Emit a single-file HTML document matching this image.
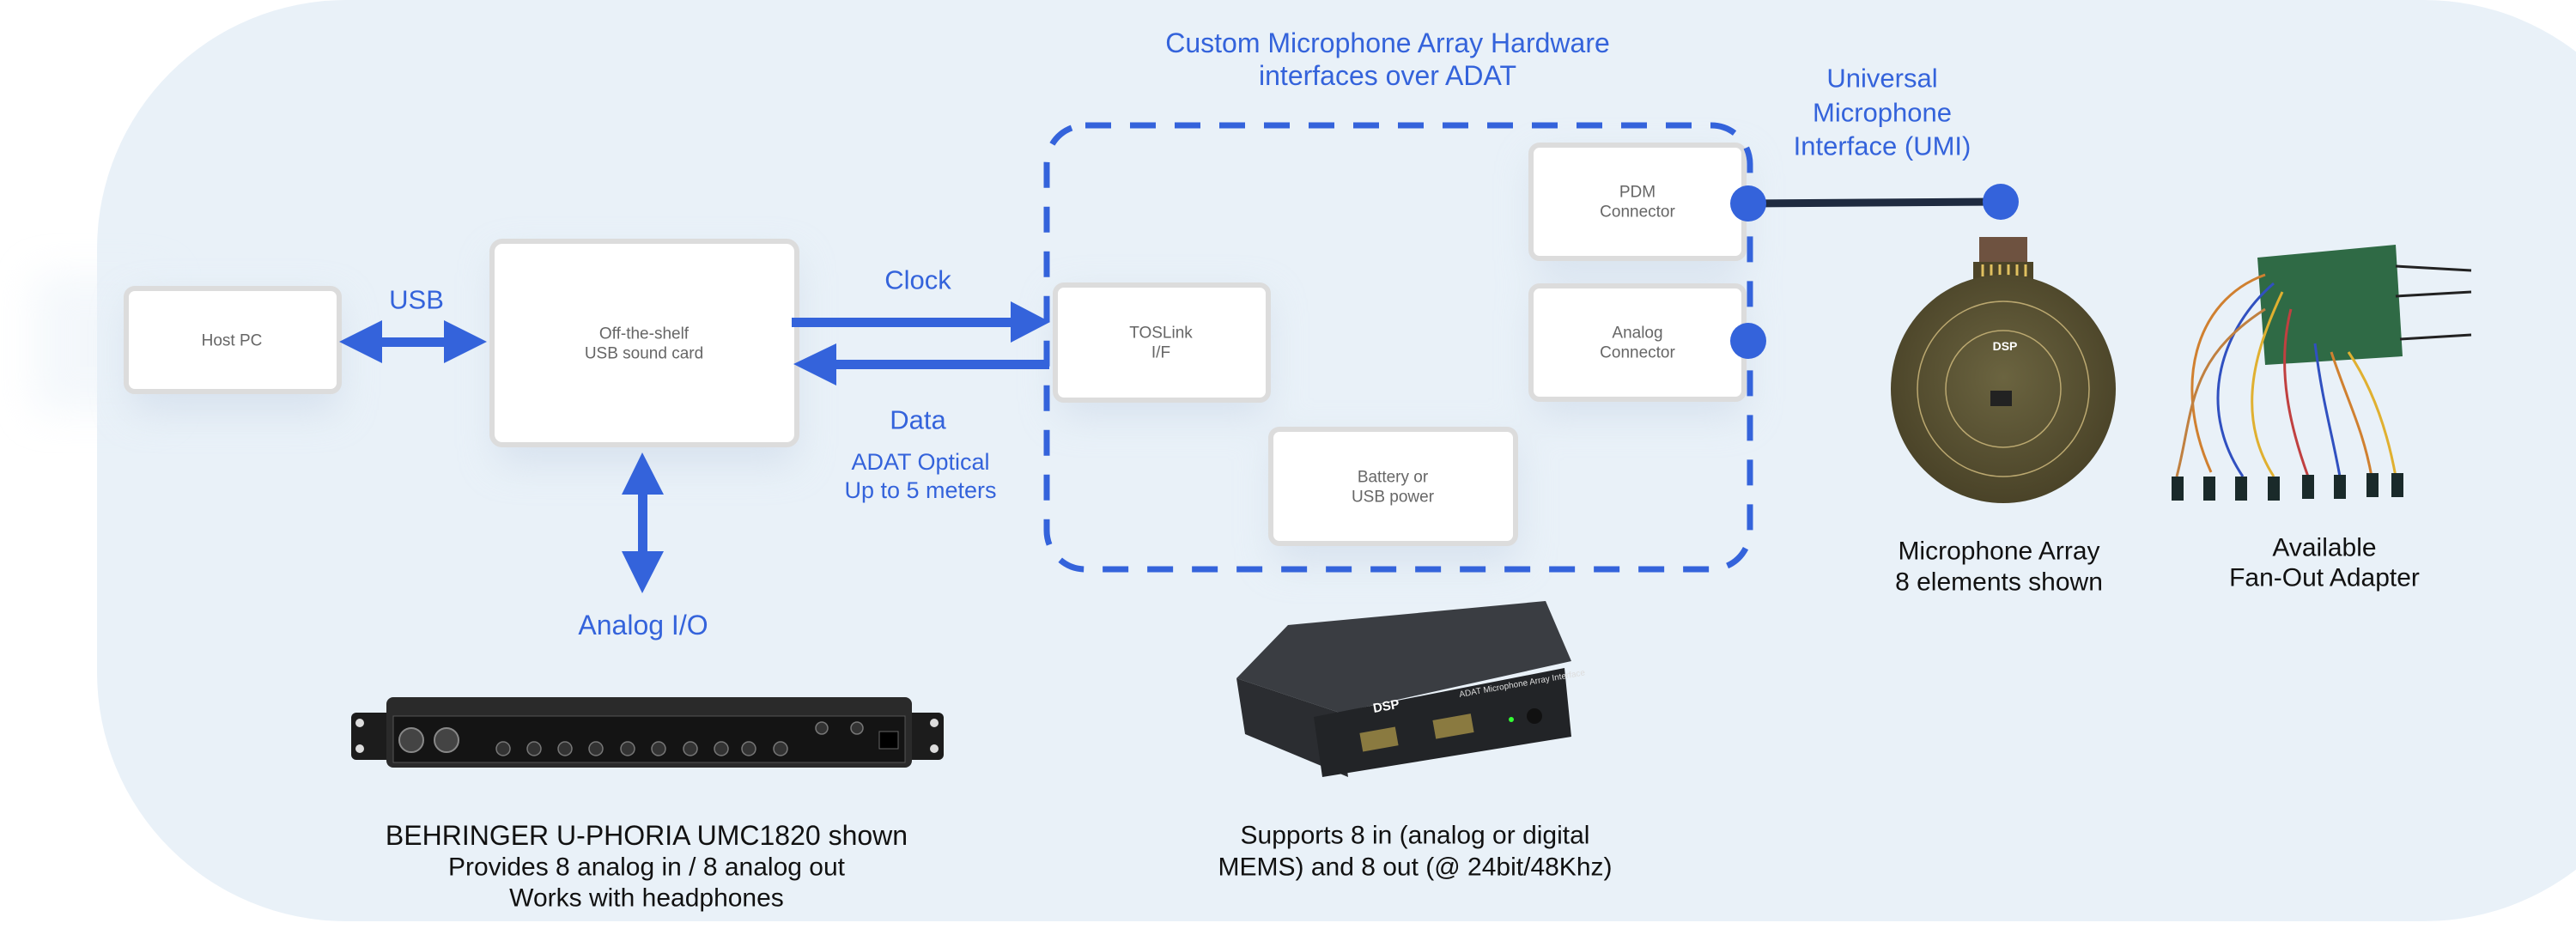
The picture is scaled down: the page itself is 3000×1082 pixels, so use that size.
<!DOCTYPE html>
<html><head><meta charset="utf-8"><style>
html,body{margin:0;padding:0;background:#fff;}
svg{display:block;}
text{font-family:"Liberation Sans",Arial,sans-serif;}
</style></head><body>
<svg width="3000" height="1082" viewBox="0 0 3000 1082" xmlns="http://www.w3.org/2000/svg">
<defs>
<filter id="sh" x="-30%" y="-30%" width="160%" height="160%"><feGaussianBlur stdDeviation="22"/></filter>
<radialGradient id="pcb" cx="50%" cy="45%" r="55%"><stop offset="0" stop-color="#6b6440"/><stop offset="1" stop-color="#4a4328"/></radialGradient>
</defs>
<rect x="113" y="0" width="3000" height="1073" rx="290" ry="290" fill="#e9f1f8"/>
<rect x="40" y="320" width="150" height="160" fill="#e9f1f8" opacity="0.5" filter="url(#sh)"/>

<g fill="#c9d6e6" opacity="0.55" filter="url(#sh)">
<rect x="150" y="350" width="245" height="130" rx="10"/>
<rect x="578" y="300" width="350" height="240" rx="10"/>
<rect x="1232" y="345" width="245" height="140" rx="10"/>
<rect x="1786" y="185" width="245" height="135" rx="10"/>
<rect x="1786" y="345" width="245" height="140" rx="10"/>
<rect x="1483" y="515" width="285" height="140" rx="10"/>
</g>

<g fill="#fff" stroke="#dcdcdc" stroke-width="6">
<rect x="147" y="336" width="248" height="120" rx="10"/>
<rect x="573" y="281" width="355" height="237" rx="12"/>
<rect x="1229" y="332" width="248" height="134" rx="10"/>
<rect x="1783" y="169" width="248" height="132" rx="10"/>
<rect x="1783" y="333" width="248" height="132" rx="10"/>
<rect x="1480" y="500" width="285" height="133" rx="10"/>
</g>
<g fill="#666" font-size="19" text-anchor="middle" dominant-baseline="central">
<text x="270" y="397">Host PC</text>
<text x="750" y="389">Off-the-shelf</text><text x="750" y="412">USB sound card</text>
<text x="1352" y="388">TOSLink</text><text x="1352" y="411">I/F</text>
<text x="1907" y="224">PDM</text><text x="1907" y="247">Connector</text>
<text x="1907" y="388">Analog</text><text x="1907" y="411">Connector</text>
<text x="1622" y="556">Battery or</text><text x="1622" y="579">USB power</text>
</g>

<rect x="1219" y="146" width="819" height="517" rx="45" fill="none" stroke="#3463db" stroke-width="7" stroke-dasharray="30 22"/>

<g fill="#3463db">
<rect x="438" y="393" width="86" height="11"/>
<polygon points="395,398 445,373 445,423"/>
<polygon points="567,398 517,373 517,423"/>
<rect x="922" y="370" width="260" height="11"/>
<polygon points="1223,375 1177,351 1177,399"/>
<rect x="968" y="419" width="254" height="11"/>
<polygon points="924,424 974,400 974,449"/>
<rect x="743" y="565" width="11" height="90"/>
<polygon points="748,527 724,576 773,576"/>
<polygon points="748,691 724,642 773,642"/>
<line x1="2036" y1="237" x2="2330" y2="235" stroke="#1f2b40" stroke-width="9"/>
<circle cx="2036" cy="237" r="21"/>
<circle cx="2036" cy="397" r="21"/>
<circle cx="2330" cy="235" r="21"/>
</g>

<g fill="#3463db" text-anchor="middle" dominant-baseline="central">
<text x="485" y="349" font-size="31">USB</text>
<text x="1069" y="326" font-size="31">Clock</text>
<text x="1069" y="489" font-size="31">Data</text>
<text x="1072" y="538" font-size="27">ADAT Optical</text>
<text x="1072" y="571" font-size="27">Up to 5 meters</text>
<text x="749" y="728" font-size="32">Analog I/O</text>
<text x="1616" y="50" font-size="32">Custom Microphone Array Hardware</text>
<text x="1616" y="88" font-size="32">interfaces over ADAT</text>
<text x="2192" y="91" font-size="31">Universal</text>
<text x="2192" y="131" font-size="31">Microphone</text>
<text x="2192" y="170" font-size="31">Interface (UMI)</text>
</g>

<g fill="#111" text-anchor="middle" dominant-baseline="central" font-size="30">
<text x="753" y="973" font-size="32">BEHRINGER U-PHORIA UMC1820 shown</text>
<text x="753" y="1010">Provides 8 analog in / 8 analog out</text>
<text x="753" y="1046">Works with headphones</text>
<text x="1648" y="973">Supports 8 in (analog or digital</text>
<text x="1648" y="1010">MEMS) and 8 out (@ 24bit/48Khz)</text>
<text x="2328" y="642">Microphone Array</text>
<text x="2328" y="678">8 elements shown</text>
<text x="2707" y="638">Available</text>
<text x="2707" y="673">Fan-Out Adapter</text>
</g>

<g>
<rect x="409" y="830" width="690" height="55" rx="6" fill="#1c1c1c"/>
<rect x="450" y="812" width="612" height="82" rx="8" fill="#2a2a2a"/>
<rect x="458" y="834" width="596" height="54" fill="#141414" stroke="#555" stroke-width="1"/>
<circle cx="419" cy="842" r="5" fill="#ddd"/><circle cx="419" cy="872" r="5" fill="#ddd"/>
<circle cx="1088" cy="842" r="5" fill="#ddd"/><circle cx="1088" cy="872" r="5" fill="#ddd"/>
<circle cx="479" cy="862" r="14" fill="#444" stroke="#888" stroke-width="2"/>
<circle cx="520" cy="862" r="14" fill="#444" stroke="#888" stroke-width="2"/>
<g fill="#333" stroke="#777" stroke-width="1.5">
<circle cx="586" cy="872" r="8"/><circle cx="622" cy="872" r="8"/><circle cx="658" cy="872" r="8"/><circle cx="694" cy="872" r="8"/>
<circle cx="731" cy="872" r="8"/><circle cx="767" cy="872" r="8"/><circle cx="804" cy="872" r="8"/><circle cx="840" cy="872" r="8"/>
<circle cx="872" cy="872" r="8"/><circle cx="909" cy="872" r="8"/><circle cx="957" cy="848" r="7"/><circle cx="998" cy="848" r="7"/>
</g>
<rect x="1024" y="852" width="22" height="20" fill="#000" stroke="#666"/>
</g>

<g>
<polygon points="1440,790 1500,728 1800,700 1830,770 1560,830" fill="#3a3d42"/>
<polygon points="1440,790 1560,830 1570,905 1450,855" fill="#2b2d31"/>
<polygon points="1530,835 1822,778 1830,858 1540,905" fill="#222427"/>
<text x="1600" y="830" fill="#fff" font-size="15" font-weight="bold" transform="rotate(-10 1600 830)">DSP</text>
<text x="1700" y="812" fill="#ddd" font-size="10" transform="rotate(-10 1700 812)">ADAT Microphone Array Interface</text>
<rect x="1585" y="850" width="42" height="22" fill="#8a7a40" transform="rotate(-10 1606 861)"/>
<rect x="1670" y="835" width="45" height="22" fill="#8a7a40" transform="rotate(-10 1692 846)"/>
<circle cx="1760" cy="838" r="3" fill="#3f3"/>
<circle cx="1787" cy="834" r="9" fill="#111"/>
</g>

<g>
<rect x="2305" y="276" width="56" height="35" fill="#6e5240"/>
<rect x="2298" y="305" width="70" height="25" fill="#4c4428"/>
<g stroke="#e0c060" stroke-width="3"><line x1="2309" y1="308" x2="2309" y2="322"/><line x1="2319" y1="308" x2="2319" y2="322"/><line x1="2329" y1="308" x2="2329" y2="322"/><line x1="2339" y1="308" x2="2339" y2="322"/><line x1="2349" y1="308" x2="2349" y2="322"/><line x1="2359" y1="308" x2="2359" y2="322"/></g>
<ellipse cx="2333" cy="453" rx="131" ry="133" fill="url(#pcb)"/>
<ellipse cx="2333" cy="453" rx="100" ry="102" fill="none" stroke="#bba870" stroke-width="1.5"/>
<ellipse cx="2333" cy="453" rx="67" ry="68" fill="none" stroke="#bba870" stroke-width="1.5"/>
<rect x="2318" y="455" width="25" height="18" fill="#222"/>
<text x="2335" y="408" fill="#fff" font-size="14" font-weight="bold" text-anchor="middle">DSP</text>
</g>

<g>
<polygon points="2629,300 2790,285 2798,415 2638,425" fill="#2f6a45"/>
<g fill="none" stroke-width="3">
<path d="M2638,320 C2555,350 2530,450 2575,550" stroke="#d08030"/>
<path d="M2648,330 C2590,380 2555,470 2612,555" stroke="#3050c0"/>
<path d="M2658,340 C2630,400 2600,480 2648,555" stroke="#e0b030"/>
<path d="M2668,360 C2650,430 2668,500 2688,555" stroke="#c04040"/>
<path d="M2696,400 C2705,470 2715,500 2725,555" stroke="#3050c0"/>
<path d="M2715,410 C2735,470 2752,500 2762,555" stroke="#d08030"/>
<path d="M2735,410 C2762,450 2780,500 2790,555" stroke="#e0b030"/>
<path d="M2638,360 C2545,420 2555,480 2535,555" stroke="#c08040"/>
<path d="M2790,310 L2878,315 M2790,345 L2878,340 M2795,395 L2878,390" stroke="#222"/>
</g>
<g fill="#1a2a2a">
<rect x="2529" y="555" width="14" height="28"/><rect x="2566" y="555" width="14" height="28"/><rect x="2603" y="555" width="14" height="28"/>
<rect x="2641" y="555" width="14" height="28"/><rect x="2681" y="553" width="14" height="28"/><rect x="2718" y="553" width="14" height="28"/>
<rect x="2756" y="551" width="14" height="28"/><rect x="2785" y="551" width="14" height="28"/>
</g>
</g>
</svg>
</body></html>
